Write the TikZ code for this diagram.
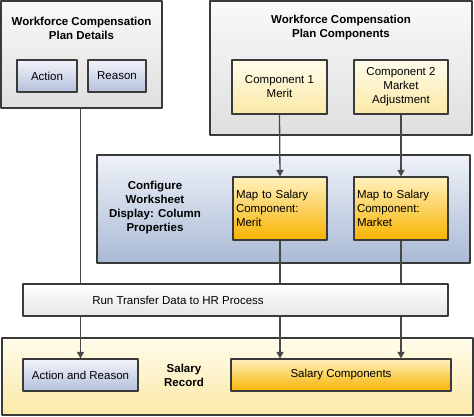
\documentclass[tikz,border=0pt]{standalone}
\usepackage{fontspec}
\setmainfont{Liberation Sans}
\usetikzlibrary{arrows.meta}
\definecolor{edge}{HTML}{3A3A3A}
\definecolor{link}{HTML}{484848}
\definecolor{bluetop}{HTML}{F2F4FA}
\definecolor{bluebot}{HTML}{B4C0DC}
\definecolor{cfgtop}{HTML}{EEF2F8}
\definecolor{cfgbot}{HTML}{A9B9D5}
\definecolor{ambertop}{HTML}{FFF1BE}
\definecolor{amberbot}{HTML}{F7B300}
\definecolor{creamtop}{HTML}{FFFCEC}
\definecolor{creambot}{HTML}{FBE9A6}
\begin{document}
\begin{tikzpicture}[x=1pt,y=-1pt,line join=round,>={Triangle[width=7pt,length=6.5pt]},
	outer/.style={draw=edge,line width=1.8pt,inner sep=0pt},
	inner/.style={draw=edge,line width=1.2pt,inner sep=0pt,font=\fontsize{11.5}{14}\selectfont,align=center},
	grey/.style={top color=gray!5,bottom color=gray!25},
	bluish/.style={top color=bluetop,bottom color=bluebot},
	cream/.style={top color=creamtop,bottom color=creambot},
	amber/.style={top color=ambertop,bottom color=amberbot},
	heading/.style={font=\bfseries\fontsize{11.5}{14}\selectfont,align=center},
	link/.style={draw=link,line width=1.3pt,->}]
	\useasboundingbox (0,0) rectangle (474,417);
	\node[outer,grey,minimum width=161,minimum height=107] (details) at (81.5,54.5) {};
	\node[heading] (detailstitle) at (81.5,28) {Workforce Compensation\\Plan Details};
	\node[inner,bluish,minimum width=60,minimum height=32] (action) at (47,76) {Action};
	\node[inner,bluish,minimum width=58,minimum height=32] (reason) at (117,76) {Reason};
	\node[outer,grey,minimum width=262,minimum height=134] (components) at (341,68) {};
	\node[heading] (componentstitle) at (341,28) {Workforce Compensation\\Plan Components};
	\node[inner,cream,minimum width=95,minimum height=54] (comp1) at (279.5,87) {Component 1\\Merit};
	\node[inner,cream,minimum width=94,minimum height=54] (comp2) at (401,87) {Component 2\\Market\\Adjustment};
	\node[outer,top color=cfgtop,bottom color=cfgbot,minimum width=373,minimum height=108] (config) at (283.5,209) {};
	\node[heading] (configtitle) at (155,208) {Configure\\Worksheet\\Display: Column\\Properties};
	\node[inner,amber,minimum width=94,minimum height=63,align=left,text width=88] (map1) at (280,208.5) {Map to Salary\\Component:\\Merit};
	\node[inner,amber,minimum width=94,minimum height=63,align=left,text width=88] (map2) at (401,208.5) {Map to Salary\\Component:\\Market};
	\node[outer,cream,minimum width=471,minimum height=77] (record) at (237.5,376.5) {};
	\node[heading] (recordtitle) at (184,375) {Salary\\Record};
	\node[inner,bluish,minimum width=115,minimum height=32] (actreason) at (80.5,375) {Action and Reason};
	\node[inner,amber,minimum width=220,minimum height=32] (salcomp) at (341,375) {Salary Components};
	\draw[link] (actreason.north |- details.south) -- (actreason.north);
	\draw[link] (comp1.south) -- (map1.north);
	\draw[link] (comp2.south) -- (map2.north);
	\draw[link] (map1.south) -- (map1.south |- salcomp.north);
	\draw[link] (map2.south) -- (map2.south |- salcomp.north);
	\node[inner,top color=white,bottom color=gray!20,minimum width=425,minimum height=32] (run) at (235.5,300) {};
	\node[font=\fontsize{11.5}{14}\selectfont] (runtext) at (178,300.5) {Run Transfer Data to HR Process};
\end{tikzpicture}
\end{document}
